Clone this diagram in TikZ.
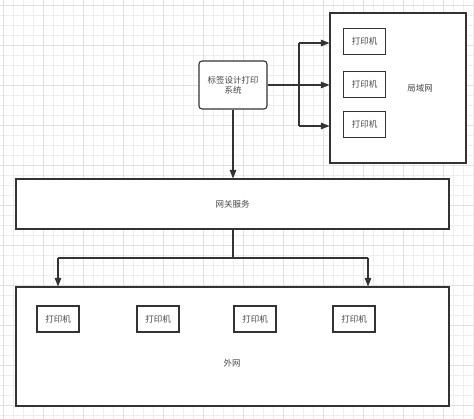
\documentclass[tikz,border=0pt]{standalone}
\usepackage{fontspec}
\newfontfamily\cjk{Noto Sans CJK SC}
\usetikzlibrary{arrows.meta}
\definecolor{gridminor}{RGB}{238,238,238}
\definecolor{gridmajor}{RGB}{224,224,224}
\definecolor{boxline}{RGB}{51,51,51}
\definecolor{txt}{RGB}{70,70,70}
\tikzset{
  base/.style={draw=boxline, line width=1.1pt, fill=white, inner sep=0pt, font=\cjk\fontsize{8.5}{10}\selectfont, text=txt},
  printer/.style={base, minimum width=42pt, minimum height=25.5pt},
  bigbox/.style={base},
  conn/.style={draw=boxline, line width=1.1pt},
  arr/.style={conn, -{Triangle[length=8.5pt,width=6.5pt]}},
  lbl/.style={font=\cjk\fontsize{8.5}{10}\selectfont, text=txt, inner sep=0pt}
}
\begin{document}
\begin{tikzpicture}[x=1pt,y=-1pt]
\useasboundingbox (0,0) rectangle (474,419);
\fill[white] (0,0) rectangle (474,419);
\foreach \i in {0,...,47} {\draw[gridminor, line width=0.5pt] ({3+10*\i},0) -- ({3+10*\i},419);}
\foreach \i in {0,...,42} {\draw[gridminor, line width=0.5pt] (0,{5+10*\i}) -- (474,{5+10*\i});}
\foreach \i in {0,...,11} {\draw[gridmajor, line width=0.6pt] ({3+40*\i},0) -- ({3+40*\i},419);}
\foreach \i in {0,...,10} {\draw[gridmajor, line width=0.6pt] (0,{5+40*\i}) -- (474,{5+40*\i});}

% LAN
\node[bigbox, minimum width=136pt, minimum height=150pt] (lan) at (398,88) {};
\node[lbl] (lanlbl) at (420,88) {局域网};
\node[printer] (lp1) at (364.5,41.5) {打印机};
\node[printer] (lp2) at (364.5,84.5) {打印机};
\node[printer] (lp3) at (364.5,124.5) {打印机};

% system
\node[base, rounded corners=3pt, minimum width=68pt, minimum height=48pt, align=center] (sys) at (233,85) {标签设计打印\\系统};

% gateway
\node[bigbox, minimum width=433pt, minimum height=50pt] (gw) at (232.5,204) {网关服务};

% outer
\node[bigbox, minimum width=433pt, minimum height=119pt] (wan) at (232.5,346.5) {};
\node[lbl] (wanlbl) at (232,363) {外网};
\node[printer, minimum height=26pt] (op1) at (58,319) {打印机};
\node[printer, minimum height=26pt] (op2) at (158,319) {打印机};
\node[printer, minimum height=26pt] (op3) at (255,319) {打印机};
\node[printer, minimum height=26pt] (op4) at (354,319) {打印机};

% connectors top
\coordinate (br) at (299,85);
\coordinate (brtop) at (299,43);
\coordinate (brbot) at (299,126);
\draw[arr] (sys.east) -- (sys.east -| lan.west);
\draw[conn] (brtop) -- (brbot);
\draw[arr] (brtop) -- (brtop -| lan.west);
\draw[arr] (brbot) -- (brbot -| lan.west);
\draw[arr] (sys.south) -- (sys.south |- gw.north);

% connectors bottom
\coordinate (gb) at (233,258);
\coordinate (gl) at (58,258);
\coordinate (gr) at (368,258);
\draw[conn] (gw.south -| gb) -- (gb);
\draw[conn] (gl) -- (gr);
\draw[arr] (gl) -- (gl |- wan.north);
\draw[arr] (gr) -- (gr |- wan.north);
\end{tikzpicture}
\end{document}
